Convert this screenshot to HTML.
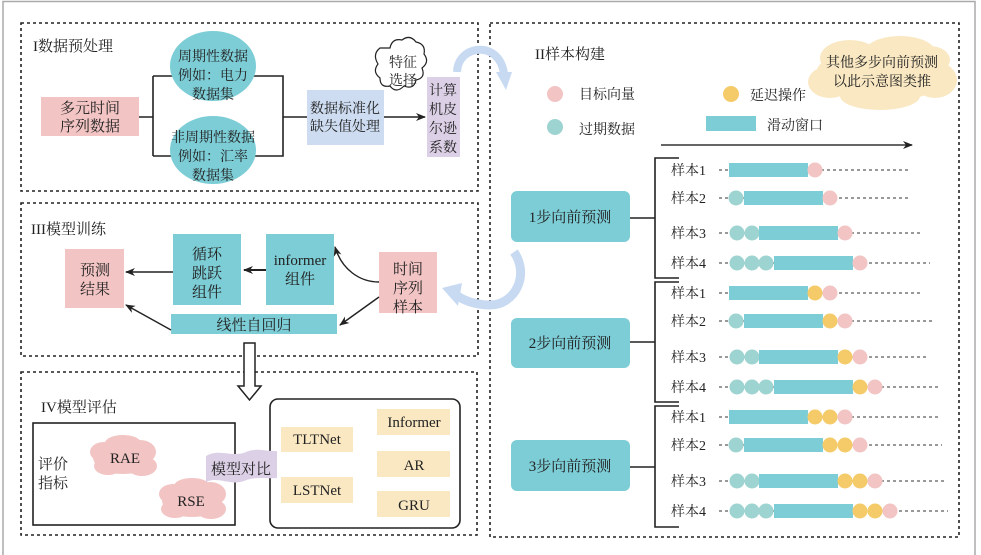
<!DOCTYPE html>
<html><head><meta charset="utf-8"><style>
html,body{margin:0;padding:0;background:#fff;}
svg{display:block;}
text{font-family:"Liberation Serif","Noto Serif CJK SC",serif;fill:#222;}
</style></head><body>
<svg width="981" height="555" viewBox="0 0 981 555" xmlns="http://www.w3.org/2000/svg">
<defs>
<marker id="ah" markerWidth="10" markerHeight="8" refX="9" refY="4" orient="auto" markerUnits="userSpaceOnUse">
<path d="M0,0 L10,4 L0,8 L3,4 Z" fill="#222"/></marker>
</defs>
<!-- outer frame -->
<path d="M3,555 L3,1.5 L975,1.5 L975,555" fill="none" stroke="#aaa" stroke-width="1.5"/>

<!-- panel borders -->
<g fill="none" stroke="#222" stroke-width="1.6" stroke-dasharray="3,3">
<rect x="21" y="23" width="457" height="168"/>
<rect x="21" y="203" width="457" height="153"/>
<rect x="21" y="372" width="456" height="163"/>
<rect x="490" y="23" width="469" height="514"/>
</g>

<!-- ===== Panel I ===== -->
<text x="33" y="51" font-size="15">I数据预处理</text>
<rect x="41" y="97" width="98" height="39" fill="#f2c4c4"/>
<text x="90" y="113" font-size="15" text-anchor="middle">多元时间</text>
<text x="90" y="131" font-size="15" text-anchor="middle">序列数据</text>
<g fill="none" stroke="#222" stroke-width="1.6">
<path d="M139,117 H153 M153,76 V156 M153,76 H175 M153,156 H175"/>
<path d="M252,76 H283 V156 H252 M283,117 H307"/>
</g>
<ellipse cx="213" cy="66" rx="43" ry="35" fill="#7ccdd6"/>
<ellipse cx="213" cy="150" rx="43" ry="34" fill="#7ccdd6"/>
<text x="213" y="61" font-size="14" text-anchor="middle">周期性数据</text>
<text x="213" y="80" font-size="14" text-anchor="middle">例如：电力</text>
<text x="213" y="99" font-size="14" text-anchor="middle">数据集</text>
<text x="213" y="142" font-size="14" text-anchor="middle">非周期性数据</text>
<text x="213" y="161" font-size="14" text-anchor="middle">例如：汇率</text>
<text x="213" y="180" font-size="14" text-anchor="middle">数据集</text>
<rect x="307" y="90" width="77" height="55" fill="#cddcf0"/>
<text x="345" y="113" font-size="14" text-anchor="middle">数据标准化</text>
<text x="345" y="131" font-size="14" text-anchor="middle">缺失值处理</text>
<line x1="384" y1="117" x2="425" y2="117" stroke="#222" stroke-width="1.6" marker-end="url(#ah)"/>
<rect x="427" y="77" width="33" height="80" fill="#dcd0e6"/>
<text x="443" y="95" font-size="14" text-anchor="middle">计算</text>
<text x="443" y="114" font-size="14" text-anchor="middle">机皮</text>
<text x="443" y="133" font-size="14" text-anchor="middle">尔逊</text>
<text x="443" y="152" font-size="14" text-anchor="middle">系数</text>
<!-- thought cloud -->
<path d="M390,48 q2,-10 12,-8 q8,-6 14,2 q10,2 8,12 q6,8 -2,14 q4,10 -6,12 q-2,10 -12,6 q-8,8 -14,0 q-10,2 -10,-8 q-8,-6 -2,-14 q-6,-10 2,-16 z" fill="#fff" stroke="#222" stroke-width="1.2"/>
<text x="403" y="67" font-size="14" text-anchor="middle">特征</text>
<text x="403" y="85" font-size="14" text-anchor="middle">选择</text>

<!-- curved light blue arrows -->
<path d="M457,72 C458,44 500,40 504,74" fill="none" stroke="#c8daf2" stroke-width="8"/>
<path d="M496,72 L512,72 L506,90 Z" fill="#c8daf2"/>
<path d="M514,252 C530,275 515,305 490,305 C475,305 462,300 455,294" fill="none" stroke="#c8daf2" stroke-width="9"/>
<path d="M442,288 L462,283 L458,306 Z" fill="#c8daf2"/>

<!-- ===== Panel III ===== -->
<text x="31" y="234" font-size="15">III模型训练</text>
<rect x="65" y="249" width="59" height="59" fill="#f2c4c4"/>
<text x="95" y="275" font-size="15" text-anchor="middle">预测</text>
<text x="95" y="294" font-size="15" text-anchor="middle">结果</text>
<rect x="173" y="234" width="68" height="71" fill="#7ccdd6"/>
<text x="207" y="259" font-size="15" text-anchor="middle">循环</text>
<text x="207" y="278" font-size="15" text-anchor="middle">跳跃</text>
<text x="207" y="297" font-size="15" text-anchor="middle">组件</text>
<rect x="266" y="234" width="68" height="71" fill="#7ccdd6"/>
<text x="300" y="265" font-size="15" text-anchor="middle">informer</text>
<text x="300" y="284" font-size="15" text-anchor="middle">组件</text>
<rect x="379" y="252" width="58" height="61" fill="#f2c4c4"/>
<text x="408" y="274" font-size="15" text-anchor="middle">时间</text>
<text x="408" y="293" font-size="15" text-anchor="middle">序列</text>
<text x="408" y="312" font-size="15" text-anchor="middle">样本</text>
<rect x="171" y="314" width="166" height="20" fill="#7ccdd6"/>
<text x="254" y="330" font-size="15" text-anchor="middle">线性自回归</text>
<g fill="none" stroke="#222" stroke-width="1.4">
<line x1="173" y1="272" x2="126" y2="272" marker-end="url(#ah)"/>
<line x1="266" y1="270" x2="244" y2="270" marker-end="url(#ah)" stroke-width="2"/>
<path d="M379,282 C360,282 342,270 335,247" marker-end="url(#ah)"/>
<line x1="379" y1="297" x2="340" y2="325" marker-end="url(#ah)"/>
<line x1="171" y1="330" x2="126" y2="305" marker-end="url(#ah)"/>
</g>
<!-- hollow down arrow -->
<path d="M244,343 H255 V386 H261 L249.5,400 L238,386 H244 Z" fill="#fff" stroke="#222" stroke-width="1.5"/>

<!-- ===== Panel IV ===== -->
<text x="41" y="412" font-size="15">IV模型评估</text>
<rect x="33" y="423" width="202" height="102" fill="none" stroke="#222" stroke-width="1.6"/>
<text x="38" y="469" font-size="15">评价</text>
<text x="38" y="488" font-size="15">指标</text>
<g fill="#f2c4c4">
<ellipse cx="123" cy="457" rx="30" ry="17"/><ellipse cx="104" cy="452" rx="14" ry="10"/><ellipse cx="140" cy="452" rx="16" ry="12"/><ellipse cx="108" cy="466" rx="14" ry="9"/><ellipse cx="142" cy="466" rx="15" ry="10"/><ellipse cx="123" cy="443" rx="18" ry="8"/>
<ellipse cx="192" cy="500" rx="30" ry="17"/><ellipse cx="173" cy="494" rx="14" ry="10"/><ellipse cx="210" cy="494" rx="16" ry="12"/><ellipse cx="175" cy="509" rx="14" ry="9"/><ellipse cx="211" cy="509" rx="15" ry="10"/><ellipse cx="192" cy="486" rx="18" ry="8"/>
</g>
<text x="125" y="463" font-size="15" text-anchor="middle">RAE</text>
<text x="191" y="506" font-size="15" text-anchor="middle">RSE</text>
<rect x="270" y="399" width="190" height="129" rx="8" fill="none" stroke="#222" stroke-width="1.6"/>
<path d="M206,456 C220,448 232,458 246,452 C258,447 268,452 277,451 L277,478 C266,479 256,476 244,481 C230,486 218,476 206,482 Z" fill="#dcd0e6"/>
<text x="241" y="474" font-size="15" text-anchor="middle">模型对比</text>
<g fill="#fae8c3">
<rect x="281" y="427" width="72" height="25"/><rect x="281" y="477" width="72" height="26"/>
<rect x="377" y="409" width="73" height="26"/><rect x="377" y="451" width="73" height="26"/><rect x="377" y="491" width="73" height="26"/>
</g>
<g font-size="15" text-anchor="middle">
<text x="317" y="444">TLTNet</text><text x="317" y="495">LSTNet</text>
<text x="414" y="427">Informer</text><text x="414" y="470">AR</text><text x="414" y="510">GRU</text>
</g>

<!-- ===== Panel II ===== -->
<text x="535" y="59" font-size="15">II样本构建</text>
<circle cx="555" cy="94" r="8" fill="#f2c4c4"/>
<text x="579" y="99" font-size="14">目标向量</text>
<circle cx="555" cy="127" r="8" fill="#9dd3d0"/>
<text x="579" y="134" font-size="14">过期数据</text>
<circle cx="731" cy="94" r="8" fill="#f5cb6a"/>
<text x="750" y="100" font-size="14">延迟操作</text>
<rect x="706" y="116" width="50" height="15" fill="#7ccdd6"/>
<text x="767" y="130" font-size="14">滑动窗口</text>
<g fill="#fae8c3">
<ellipse cx="882" cy="74" rx="66" ry="28"/><ellipse cx="850" cy="58" rx="30" ry="18"/><ellipse cx="900" cy="52" rx="35" ry="16"/><ellipse cx="830" cy="82" rx="22" ry="16"/><ellipse cx="935" cy="80" rx="22" ry="18"/><ellipse cx="880" cy="96" rx="40" ry="14"/><ellipse cx="930" cy="60" rx="20" ry="14"/>
</g>
<text x="882" y="67" font-size="14" text-anchor="middle">其他多步向前预测</text>
<text x="882" y="86" font-size="14" text-anchor="middle">以此示意图类推</text>
<line x1="661" y1="145" x2="912" y2="145" stroke="#333" stroke-width="1.5" marker-end="url(#ah)"/>

<g fill="#7ccdd6">
<rect x="511" y="191" width="119" height="51" rx="6"/>
<rect x="511" y="318" width="119" height="50" rx="6"/>
<rect x="511" y="440" width="119" height="51" rx="6"/>
</g>
<g font-size="15" text-anchor="middle">
<text x="570" y="222">1步向前预测</text>
<text x="570" y="348">2步向前预测</text>
<text x="570" y="471">3步向前预测</text>
</g>
<g fill="none" stroke="#222" stroke-width="1.6">
<path d="M679,158 H655 V278 H679 M630,218 H655"/>
<path d="M679,282 H655 V402 H679 M630,342 H655"/>
<path d="M679,406 H655 V527 H679 M630,467 H655"/>
</g>

<g font-size="14">
<text x="671" y="175">样本1</text><text x="671" y="203">样本2</text><text x="671" y="238">样本3</text><text x="671" y="268">样本4</text>
<text x="671" y="298">样本1</text><text x="671" y="326">样本2</text><text x="671" y="362">样本3</text><text x="671" y="392">样本4</text>
<text x="671" y="422">样本1</text><text x="671" y="450">样本2</text><text x="671" y="486">样本3</text><text x="671" y="516">样本4</text>
</g>

<!-- dashed lines -->
<g stroke="#333" stroke-width="1.1" stroke-dasharray="3,3" fill="none">
<path d="M719,170 H908 M719,198 H910 M719,233 H920 M719,263 H930"/>
<path d="M719,293 H923 M719,321 H932 M719,357 H928 M719,387 H940"/>
<path d="M719,417 H940 M719,445 H942 M719,481 H945 M719,511 H948"/>
</g>
<!-- teal circles -->
<g fill="#9dd3d0">
<circle cx="736" cy="198" r="7.5"/>
<circle cx="737" cy="233" r="7.5"/><circle cx="752" cy="233" r="7.5"/>
<circle cx="737" cy="263" r="7.5"/><circle cx="752" cy="263" r="7.5"/><circle cx="766" cy="263" r="7.5"/>
<circle cx="736" cy="321" r="7.5"/>
<circle cx="737" cy="357" r="7.5"/><circle cx="752" cy="357" r="7.5"/>
<circle cx="737" cy="387" r="7.5"/><circle cx="752" cy="387" r="7.5"/><circle cx="766" cy="387" r="7.5"/>
<circle cx="736" cy="445" r="7.5"/>
<circle cx="737" cy="481" r="7.5"/><circle cx="752" cy="481" r="7.5"/>
<circle cx="737" cy="511" r="7.5"/><circle cx="752" cy="511" r="7.5"/><circle cx="766" cy="511" r="7.5"/>
</g>
<!-- windows -->
<g fill="#7ccdd6">
<rect x="729" y="163" width="79" height="14"/><rect x="744" y="191" width="79" height="14"/><rect x="759" y="226" width="79" height="14"/><rect x="774" y="256" width="79" height="14"/>
<rect x="729" y="286" width="79" height="14"/><rect x="744" y="314" width="79" height="14"/><rect x="759" y="350" width="79" height="14"/><rect x="774" y="380" width="79" height="14"/>
<rect x="729" y="410" width="79" height="14"/><rect x="744" y="438" width="79" height="14"/><rect x="759" y="474" width="79" height="14"/><rect x="774" y="504" width="79" height="14"/>
</g>
<!-- yellow -->
<g fill="#f5cb6a">
<circle cx="815" cy="293" r="7.5"/><circle cx="830" cy="321" r="7.5"/><circle cx="845" cy="357" r="7.5"/><circle cx="860" cy="387" r="7.5"/>
<circle cx="815" cy="417" r="7.5"/><circle cx="830" cy="417" r="7.5"/>
<circle cx="830" cy="445" r="7.5"/><circle cx="845" cy="445" r="7.5"/>
<circle cx="845" cy="481" r="7.5"/><circle cx="860" cy="481" r="7.5"/>
<circle cx="860" cy="511" r="7.5"/><circle cx="875" cy="511" r="7.5"/>
</g>
<!-- pink -->
<g fill="#f2c4c4">
<circle cx="815" cy="170" r="7.5"/><circle cx="830" cy="198" r="7.5"/><circle cx="845" cy="233" r="7.5"/><circle cx="860" cy="263" r="7.5"/>
<circle cx="830" cy="293" r="7.5"/><circle cx="845" cy="321" r="7.5"/><circle cx="860" cy="357" r="7.5"/><circle cx="875" cy="387" r="7.5"/>
<circle cx="845" cy="417" r="7.5"/><circle cx="860" cy="445" r="7.5"/><circle cx="875" cy="481" r="7.5"/><circle cx="890" cy="511" r="7.5"/>
</g>
</svg>
</body></html>
